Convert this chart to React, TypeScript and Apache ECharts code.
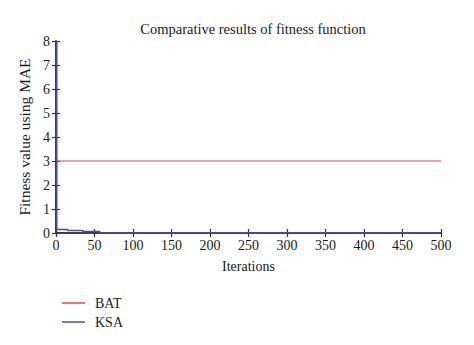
import React, { useEffect, useRef } from "react";
import * as echarts from "echarts";

const titleText = "Comparative results of fitness function";
const xName = "Iterations";
const yName = "Fitness value using MAE";
const batIter = [1, 500];
const batVal = [3.0, 3.0];
// KSA best fitness held up to each listed iteration (step drawn at interval start)
const ksaIter = [1, 15, 35, 57, 500];
const ksaVal = [8, 0.15, 0.1, 0.06, 0.01];

const FONT = "Liberation Serif";
const AX = "#333";
const TXT = "#1a1a1a";

export default function App() {
  const ref = useRef<HTMLDivElement>(null);
  useEffect(() => {
    const chart = echarts.init(ref.current!, undefined, { renderer: "svg" });
    const axisLine = { show: true, lineStyle: { color: AX, width: 1.5 } };
    const tick = { show: true, inside: true, length: 4, lineStyle: { color: AX, width: 1.2 } };
    chart.setOption({
      animation: false,
      backgroundColor: "#fff",
      textStyle: { fontFamily: FONT },
      title: {
        text: titleText,
        left: 248,
        textAlign: "center",
        top: 16,
        textStyle: { fontFamily: FONT, fontSize: 14.5, fontWeight: "normal", color: TXT },
      },
      grid: { left: 56, right: 33, top: 41, bottom: 112 },
      legend: {
        orient: "vertical",
        left: 57,
        top: 291,
        icon: "rect",
        itemWidth: 23,
        itemHeight: 1.5,
        itemGap: 5,
        textStyle: { fontFamily: FONT, fontSize: 14, lineHeight: 14, color: TXT, padding: [0, 0, 0, 5] },
        data: ["BAT", "KSA"],
      },
      xAxis: [
        {
          type: "value",
          min: 0,
          max: 500,
          interval: 50,
          name: xName,
          nameLocation: "middle",
          nameGap: 26,
          nameTextStyle: { fontFamily: FONT, fontSize: 14, color: TXT },
          axisLine,
          axisTick: tick,
          axisLabel: { fontFamily: FONT, fontSize: 14, color: TXT, margin: 5 },
          splitLine: { show: false },
        },
        {
          type: "value",
          position: "top",
          min: 0,
          max: 500,
          interval: 50,
          axisLine,
          axisTick: tick,
          axisLabel: { show: false },
          splitLine: { show: false },
        },
      ],
      yAxis: [
        {
          type: "value",
          min: 0,
          max: 8,
          interval: 1,
          name: yName,
          nameLocation: "middle",
          nameGap: 18,
          nameTextStyle: { fontFamily: FONT, fontSize: 15.5, color: TXT },
          axisLine,
          axisTick: tick,
          axisLabel: { fontFamily: FONT, fontSize: 14, color: TXT, margin: 6 },
          splitLine: { show: false },
        },
        {
          type: "value",
          position: "right",
          min: 0,
          max: 8,
          interval: 1,
          axisLine,
          axisTick: tick,
          axisLabel: { show: false },
          splitLine: { show: false },
        },
      ],
      series: [
        {
          name: "BAT",
          type: "line",
          data: batIter.map((x, i) => [x, batVal[i]]),
          symbol: "none",
          lineStyle: { color: "#e8483c", width: 1.2 },
          itemStyle: { color: "#e8483c" },
        },
        {
          name: "KSA",
          type: "line",
          step: "start",
          data: ksaIter.map((x, i) => [x, ksaVal[i]]),
          symbol: "none",
          lineStyle: { color: "#4b4a9e", width: 1.5 },
          itemStyle: { color: "#4b4a9e" },
        },
      ],
    });
    return () => chart.dispose();
  }, []);
  return <div ref={ref} style={{ width: 474, height: 345, position: "absolute", left: 0, top: 0 }} />;
}
